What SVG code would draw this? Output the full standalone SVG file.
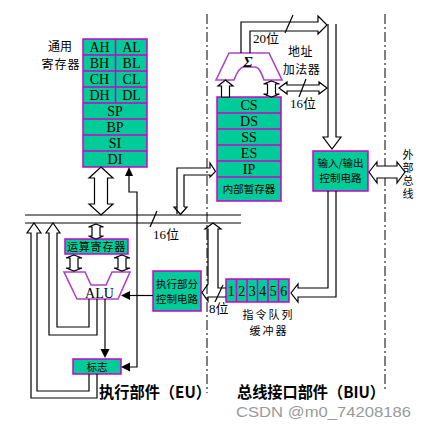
<svg xmlns="http://www.w3.org/2000/svg" width="426" height="425" viewBox="0 0 426 425">
<style>
.reg{fill:#00CC99;stroke:#CC00CC;stroke-width:1.5}
.sep{stroke:#CC00CC;stroke-width:1.5}
.ln{fill:none;stroke:#000;stroke-width:1.2}
.arw{fill:#fff;stroke:#000;stroke-width:1.2}
.dd{stroke:#000;stroke-width:1;stroke-dasharray:10 3 2 3}
.pur{fill:#fff;stroke:#B040C8;stroke-width:1.6}
.ser{font-family:"Liberation Serif","Noto Sans CJK SC",serif;font-size:14px;fill:#000;text-anchor:middle}
.cjk{font-family:"Noto Sans CJK SC",sans-serif;fill:#000}
.num{font-family:"Liberation Serif","Noto Sans CJK SC",serif;font-size:13px;fill:#000}
.ttl{font-family:"Noto Sans CJK SC",sans-serif;font-size:16px;font-weight:bold;fill:#000}
.fh{fill:#000}
</style>
<rect width="426" height="425" fill="#fff"/>

<g id="dividers">
<line x1="207" y1="14" x2="207" y2="393" class="dd"/>
<line x1="385" y1="14" x2="385" y2="391" class="dd"/>
</g>

<g id="internal-bus">
<line x1="25" y1="215" x2="241" y2="215" class="ln"/>
<line x1="25" y1="223" x2="241" y2="223" class="ln"/>
<line x1="150" y1="227" x2="157" y2="211" class="ln"/>
<text x="153" y="239" class="num">16位</text>
</g>

<g id="general-registers">
<rect x="83" y="39" width="64" height="128" class="reg"/>
<line x1="115.5" y1="39" x2="115.5" y2="103" class="sep"/>
<line x1="83" y1="55" x2="147" y2="55" class="sep"/>
<line x1="83" y1="71" x2="147" y2="71" class="sep"/>
<line x1="83" y1="87" x2="147" y2="87" class="sep"/>
<line x1="83" y1="103" x2="147" y2="103" class="sep"/>
<line x1="83" y1="119" x2="147" y2="119" class="sep"/>
<line x1="83" y1="135" x2="147" y2="135" class="sep"/>
<line x1="83" y1="151" x2="147" y2="151" class="sep"/>
<text x="99.5" y="52" class="ser">AH</text><text x="131.5" y="52" class="ser">AL</text>
<text x="99.5" y="68" class="ser">BH</text><text x="131.5" y="68" class="ser">BL</text>
<text x="99.5" y="84" class="ser">CH</text><text x="131.5" y="84" class="ser">CL</text>
<text x="99.5" y="100" class="ser">DH</text><text x="131.5" y="100" class="ser">DL</text>
<text x="115" y="116" class="ser">SP</text>
<text x="115" y="132" class="ser">BP</text>
<text x="115" y="148" class="ser">SI</text>
<text x="115" y="164" class="ser">DI</text>
<text class="cjk" font-size="12" text-anchor="middle"><tspan x="60" y="51">通用</tspan><tspan x="61" y="69" letter-spacing="1">寄存器</tspan></text>
</g>

<g id="segment-registers">
<rect x="217" y="97" width="64" height="104" class="reg"/>
<line x1="217" y1="113" x2="281" y2="113" class="sep"/>
<line x1="217" y1="129" x2="281" y2="129" class="sep"/>
<line x1="217" y1="145" x2="281" y2="145" class="sep"/>
<line x1="217" y1="161" x2="281" y2="161" class="sep"/>
<line x1="217" y1="177" x2="281" y2="177" class="sep"/>
<text x="249" y="110" class="ser">CS</text>
<text x="249" y="126" class="ser">DS</text>
<text x="249" y="142" class="ser">SS</text>
<text x="249" y="158" class="ser">ES</text>
<text x="249" y="174" class="ser">IP</text>
<text x="249" y="193" class="cjk" font-size="10.5" text-anchor="middle">内部暂存器</text>
</g>

<g id="adder">
<path d="M216,80 L229,53 L269,53 L282,80 L264,80 C261,72 259,67 255,67 L244,67 C240,67 237,72 234,80 Z" class="pur"/>
<text x="248" y="67" font-family="Liberation Serif,serif" font-size="15" font-style="italic" font-weight="bold" text-anchor="middle">Σ</text>
<text x="300.5" y="56" class="cjk" font-size="12" text-anchor="middle" letter-spacing="0.5">地址</text>
<text x="301.5" y="73.5" class="cjk" font-size="12" text-anchor="middle" letter-spacing="0.5">加法器</text>
</g>

<g id="io-control">
<rect x="313" y="151" width="55" height="40" class="reg"/>
<text class="cjk" font-size="10.5" text-anchor="middle"><tspan x="340.5" y="167">输入/输出</tspan><tspan x="340.5" y="182">控制电路</tspan></text>
</g>

<g id="external-bus-label">
<text x="408" y="149" class="cjk" font-size="11" writing-mode="vertical-rl" letter-spacing="2">外部总线</text>
</g>

<g id="queue">
<rect x="226" y="279" width="63" height="23" class="reg"/>
<line x1="236.5" y1="279" x2="236.5" y2="302" class="sep"/>
<line x1="247" y1="279" x2="247" y2="302" class="sep"/>
<line x1="257.5" y1="279" x2="257.5" y2="302" class="sep"/>
<line x1="268" y1="279" x2="268" y2="302" class="sep"/>
<line x1="278.5" y1="279" x2="278.5" y2="302" class="sep"/>
<text x="231.2" y="296" class="ser">1</text>
<text x="241.7" y="296" class="ser">2</text>
<text x="252.2" y="296" class="ser">3</text>
<text x="262.7" y="296" class="ser">4</text>
<text x="273.2" y="296" class="ser">5</text>
<text x="283.7" y="296" class="ser">6</text>
<text x="268.5" y="318.5" class="cjk" font-size="11" text-anchor="middle" letter-spacing="2">指令队列</text>
<text x="269" y="334.5" class="cjk" font-size="11" text-anchor="middle" letter-spacing="2">缓冲器</text>
</g>

<g id="eu-control">
<rect x="153" y="271" width="48" height="40" class="reg"/>
<text class="cjk" font-size="10.5" text-anchor="middle"><tspan x="177" y="288">执行部分</tspan><tspan x="177" y="303">控制电路</tspan></text>
</g>

<g id="alu-register">
<rect x="65" y="239" width="63" height="15" class="reg"/>
<text x="96.5" y="251" class="cjk" font-size="11" text-anchor="middle" letter-spacing="0.8">运算寄存器</text>
</g>

<g id="alu">
<path d="M64,272 L85,272 L91,285 L106,285 L112,272 L130,272 L118,299 L77,299 Z" class="pur"/>
<text x="99.5" y="298" class="ser" font-size="15">ALU</text>
</g>

<g id="flags">
<rect x="73" y="359" width="48" height="15" class="reg"/>
<text x="97" y="370.5" class="cjk" font-size="10.5" text-anchor="middle">标志</text>
</g>

<g id="connectors">
<path d="M101,167 L113,178 L107.5,178 L107.5,204 L113,204 L101,215 L89,204 L94.5,204 L94.5,178 L89,178 Z" class="arw"/>
<path d="M96,224 L103.5,227 L100,227 L100,236 L103.5,236 L96,239 L88.5,236 L92,236 L92,227 L88.5,227 Z" class="arw"/>
<path d="M74,255 L82,258 L78,258 L78,268 L82,268 L74,271 L66,268 L70,268 L70,258 L66,258 Z" class="arw"/>
<path d="M122,255 L130,258 L126,258 L126,268 L130,268 L122,271 L114,268 L118,268 L118,258 L114,258 Z" class="arw"/>
<path d="M271.5,81 L279.5,84 L275.5,84 L275.5,94 L279.5,94 L271.5,97 L263.5,94 L267.5,94 L267.5,84 L263.5,84 Z" class="arw"/>
<path d="M279,88 L287,82 L287,85 L319,85 L319,82 L327,88 L319,94 L319,91 L287,91 L287,94 Z" class="arw"/>
<line x1="299" y1="97" x2="306" y2="79" class="ln"/>
<text x="290" y="108" class="num">16位</text>
<path d="M225.5,80 L233,86 L229.5,86 L229.5,97 L221.5,97 L221.5,86 L218,86 Z" class="arw"/>
<path d="M241,53 V22 H318 V16 L327,25 L318,34 V31 H250 V53" class="ln"/>
<line x1="285" y1="33" x2="293" y2="15" class="ln"/>
<text x="253" y="43" class="num">20位</text>
<path d="M328,24 V137 H323 L332,149 L341,137 H336 V24" class="ln"/>
<path d="M369,172 L377,162 L377,166 L397,166 L397,162 L405,172 L397,183 L397,178 L377,178 L377,183 Z" class="arw"/>
<path d="M328,191 V288 H298 V284 L291,293 L298,302 V297 H336 V191" class="ln"/>
<path d="M226,288 H218 V229 H221 L213,223 L205,229 H208 V284 L202,292.5 L208,301 V297 H226" class="ln"/>
<line x1="215" y1="302" x2="223" y2="285" class="ln"/>
<text x="209" y="313" class="num">8位</text>
<path d="M177,214 V168 H210 V163 L215.5,171.5 L210,177 V175 H184 V207" class="ln"/>
<path d="M177,207 H174 L180.5,214.5 L187,207 H184" class="ln"/>
<path d="M153,295.5 H130" class="ln"/>
<polygon points="121,295.5 130,291 130,300" class="fh"/>
<path d="M129,176 V192 H137 V367 H130" class="ln"/>
<polygon points="129,167 125,176 133,176" class="fh"/>
<polygon points="121,367 130,362.5 130,371.5" class="fh"/>
<line x1="105" y1="299" x2="105" y2="349" class="ln"/>
<polygon points="100.5,349 109.5,349 105,358" class="fh"/>
<path d="M89,299 V327 H57 V233 H60 L53,223 L46,233 H49 V335 H97 V299" class="ln"/>
<path d="M89,374 V391 H37 V233 H41 L34,223 L27,233 H31 V398 H97 V374" class="ln"/>
</g>

<g id="titles">
<text x="99" y="398" class="ttl" textLength="112" lengthAdjust="spacingAndGlyphs">执行部件（EU）</text>
<text x="237" y="398" class="ttl" textLength="148" lengthAdjust="spacingAndGlyphs">总线接口部件（BIU）</text>
<text x="236" y="417" font-family="Liberation Sans,sans-serif" font-size="15" fill="#9a9a9a" textLength="175" lengthAdjust="spacingAndGlyphs">CSDN @m0_74208186</text>
</g>
</svg>
